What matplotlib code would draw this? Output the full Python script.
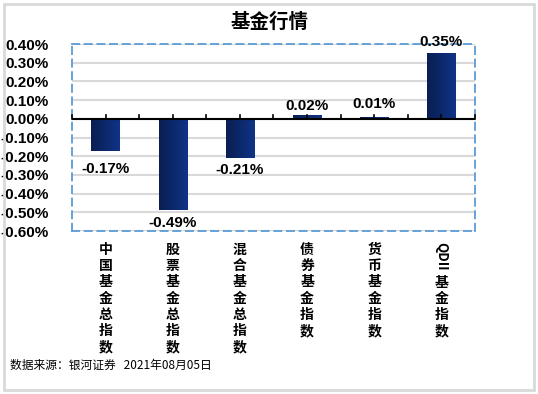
import numpy as np
import matplotlib
matplotlib.use("Agg")
import matplotlib.pyplot as plt
from matplotlib.patches import Rectangle

plt.rcParams['font.family'] = ['Liberation Sans', 'Noto Sans CJK SC', 'DejaVu Sans']

# data
categories = ['中国基金总指数', '股票基金总指数', '混合基金总指数', '债券基金指数', '货币基金指数', 'QDII基金指数']
values = [-0.17, -0.49, -0.21, 0.02, 0.01, 0.35]
yticks = [0.4, 0.3, 0.2, 0.1, 0.0, -0.1, -0.2, -0.3, -0.4, -0.5, -0.6]
title = '基金行情'
source = '数据来源：银河证券   2021年08月05日'

fig = plt.figure(figsize=(5.38, 3.94), dpi=100)
ax = fig.add_axes([72/538, 1 - 231/394, 403/538, 187/394])

x = np.arange(len(categories))
bars = ax.bar(x, values, width=0.42, color='#0d2d73', zorder=3)

# horizontal gradient on each bar (dark left -> brighter right)
grad = np.linspace(0, 1, 64).reshape(1, -1)
cmap = matplotlib.colors.LinearSegmentedColormap.from_list('navy', ['#0a1e52', '#0f3486'])
for b in bars:
    x0, y0 = b.get_x(), b.get_y()
    w, h = b.get_width(), b.get_height()
    im = ax.imshow(grad, extent=[x0, x0 + w, y0, y0 + h], aspect='auto',
                   cmap=cmap, zorder=3.5)
    im.set_clip_path(b)

ax.set_xlim(-0.5, len(categories) - 0.5)
ax.set_ylim(-0.6, 0.4)
ax.set_yticks(yticks)
ax.set_yticklabels([f'{v:.2f}%' for v in yticks], fontsize=11, fontweight='bold')
ax.tick_params(axis='y', length=0, pad=17)
ax.yaxis.grid(True, color='#d9d9d9', linewidth=1.5, zorder=0)
ax.set_xticks([])

# axis line at zero with small upward ticks
ax.axhline(0, color='black', linewidth=1.5, zorder=4)
for t in np.arange(-0.5, len(categories), 0.5):
    ax.plot([t, t], [0, 0.022], color='black', linewidth=1.2, zorder=4, clip_on=False)

for s in ax.spines.values():
    s.set_linestyle((0, (4, 3)))
    s.set_color('#5b9bd5')
    s.set_linewidth(1.3)

# data labels
offsets = [-18, -13, -12, 9, 13, 11]
for xi, v, off in zip(x, values, offsets):
    ax.annotate(f'{v:.2f}%', (xi, v), xytext=(0, off), textcoords='offset pixels',
                ha='center', va='center', fontsize=11, fontweight='bold', zorder=5)

# vertical category labels
cjk = ['Noto Sans CJK SC', 'DejaVu Sans']
for xi, c in zip(x, categories):
    if c.startswith('QDII'):
        ax.annotate('QDII', (xi, 0), xycoords=('data', 'axes fraction'),
                    xytext=(0, -11), textcoords='offset pixels', rotation=-90,
                    ha='center', va='top', fontsize=9.5, fontweight='bold', family=cjk)
        rest = c[4:]
        ax.annotate('\n'.join(rest), (xi, 0), xycoords=('data', 'axes fraction'),
                    xytext=(0, -45), textcoords='offset pixels',
                    ha='center', va='top', fontsize=10, fontweight='bold',
                    family=cjk, linespacing=1.2)
    else:
        ax.annotate('\n'.join(c), (xi, 0), xycoords=('data', 'axes fraction'),
                    xytext=(0, -12), textcoords='offset pixels',
                    ha='center', va='top', fontsize=10, fontweight='bold',
                    family=cjk, linespacing=1.2)

fig.text(270/538, 1 - 22/394, title, ha='center', va='center', fontsize=14,
         fontweight='bold', family=cjk)
fig.text(10/538, 1 - 365/394, source, ha='left', va='center', fontsize=8.5, family=cjk)

# outer frame
fig.patches.append(Rectangle((4/538, 4/394), 530/538, 386/394, transform=fig.transFigure,
                             fill=False, edgecolor='#d9d9d9', linewidth=2))

fig.savefig('out.png', dpi=100)
